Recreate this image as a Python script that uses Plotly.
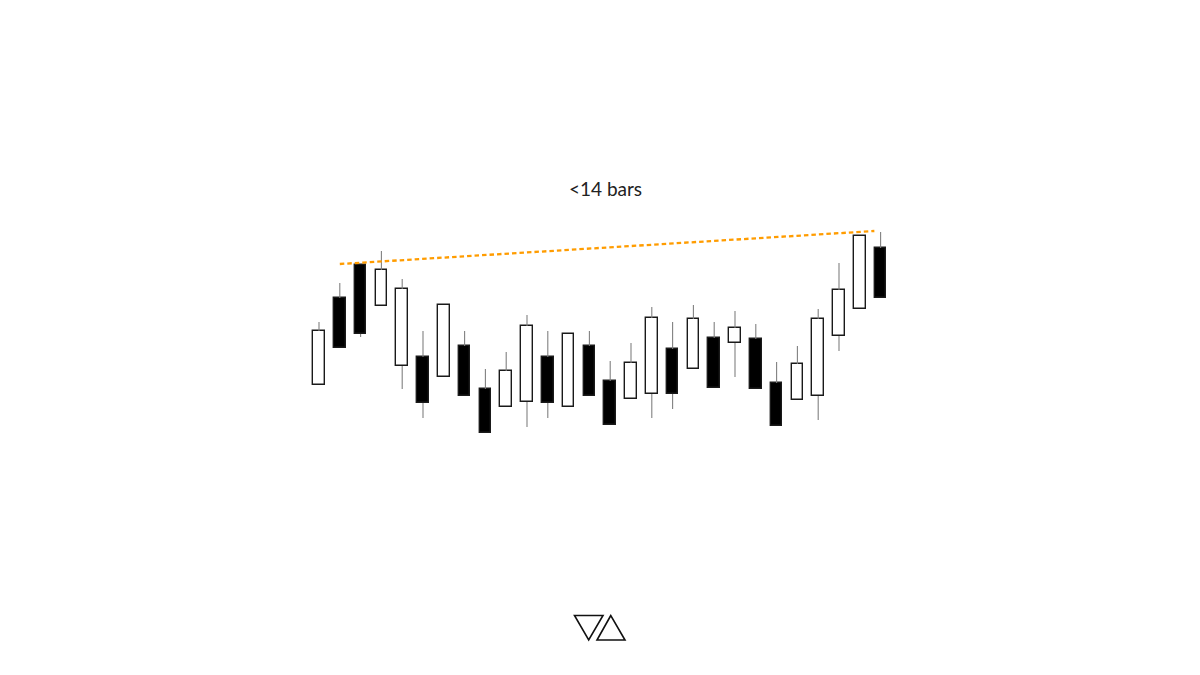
import plotly.graph_objects as go

# Candle data (price units, arbitrary scale)
idx = list(range(28))
open_ = [115, 202, 235, 194, 134, 143, 123, 154, 111, 93, 98, 143, 93, 154,
         119, 101, 106, 151, 131, 162, 157, 161, 117, 100, 104, 164, 191, 252]
high = [178, 217, 235, 249, 221, 169, 195, 169, 131, 148, 185, 169, 166, 169,
        139, 157, 193, 178, 195, 178, 189, 176, 138, 154, 191, 237, 264, 268]
low = [115, 152, 163, 194, 111, 82, 123, 104, 67, 93, 73, 82, 93, 104,
       75, 101, 82, 91, 131, 112, 123, 111, 74, 100, 80, 149, 191, 202]
close = [169, 152, 166, 230, 211, 97, 195, 104, 67, 129, 174, 97, 166, 104,
         75, 137, 182, 106, 181, 112, 172, 111, 74, 136, 181, 210, 264, 202]

trend_x = [1, 26.7]
trend_y = [236, 269]

label_text = "<14 bars"

W, H = 1200, 675

# wick segments (upper and lower, outside the body)
wx, wy = [], []
for i, o, h, l, c in zip(idx, open_, high, low, close):
    top, bot = max(o, c), min(o, c)
    if h > top:
        wx += [i, i, None]
        wy += [top, h, None]
    if l < bot:
        wx += [i, i, None]
        wy += [bot, l, None]

fig = go.Figure()
fig.add_trace(go.Bar(
    x=idx, base=open_, y=[c - o for o, c in zip(open_, close)],
    width=0.55,
    marker=dict(color=["white" if c >= o else "black" for o, c in zip(open_, close)],
                line=dict(color="#1a1a1a", width=1.4)),
    hoverinfo="skip", showlegend=False,
))
fig.add_trace(go.Scatter(
    x=wx, y=wy, mode="lines",
    line=dict(color="#808080", width=1.1),
    hoverinfo="skip", showlegend=False, connectgaps=False,
))
fig.add_trace(go.Scatter(
    x=trend_x, y=trend_y, mode="lines",
    line=dict(color="#FF9C00", width=2.3, dash="4.5px,3px"),
    hoverinfo="skip", showlegend=False,
))

def px(xp, yp):
    return xp / W, 1 - yp / H

fig.add_annotation(
    x=605 / W, y=1 - 188 / H, xref="paper", yref="paper",
    xanchor="center", yanchor="middle",
    text=label_text, showarrow=False,
    font=dict(family="Lato, Open Sans, sans-serif", size=19, color="#222222"),
)

# logo: two triangles
def tri(pts):
    p = [px(a, b) for a, b in pts]
    return "M {} {} L {} {} L {} {} Z".format(p[0][0], p[0][1], p[1][0], p[1][1], p[2][0], p[2][1])

fig.add_shape(type="path", xref="paper", yref="paper",
              path=tri([(574.5, 615.5), (603, 615.5), (588.7, 640)]),
              line=dict(color="#111111", width=1.6))
fig.add_shape(type="path", xref="paper", yref="paper",
              path=tri([(610.8, 615.5), (597, 640), (625, 640)]),
              line=dict(color="#111111", width=1.6))

step = 20.8
x0 = 319
fig.update_layout(
    width=W, height=H,
    margin=dict(l=0, r=0, t=0, b=0),
    paper_bgcolor="white", plot_bgcolor="white",
    xaxis=dict(range=[-x0 / step, (W - x0) / step], visible=False, fixedrange=True),
    yaxis=dict(range=[500 - H, 500], visible=False, fixedrange=True),
    bargap=0,
)

fig.write_html("out.html", config={"displayModeBar": False},
               post_script="document.body.style.margin='0';document.body.style.overflow='hidden';")
